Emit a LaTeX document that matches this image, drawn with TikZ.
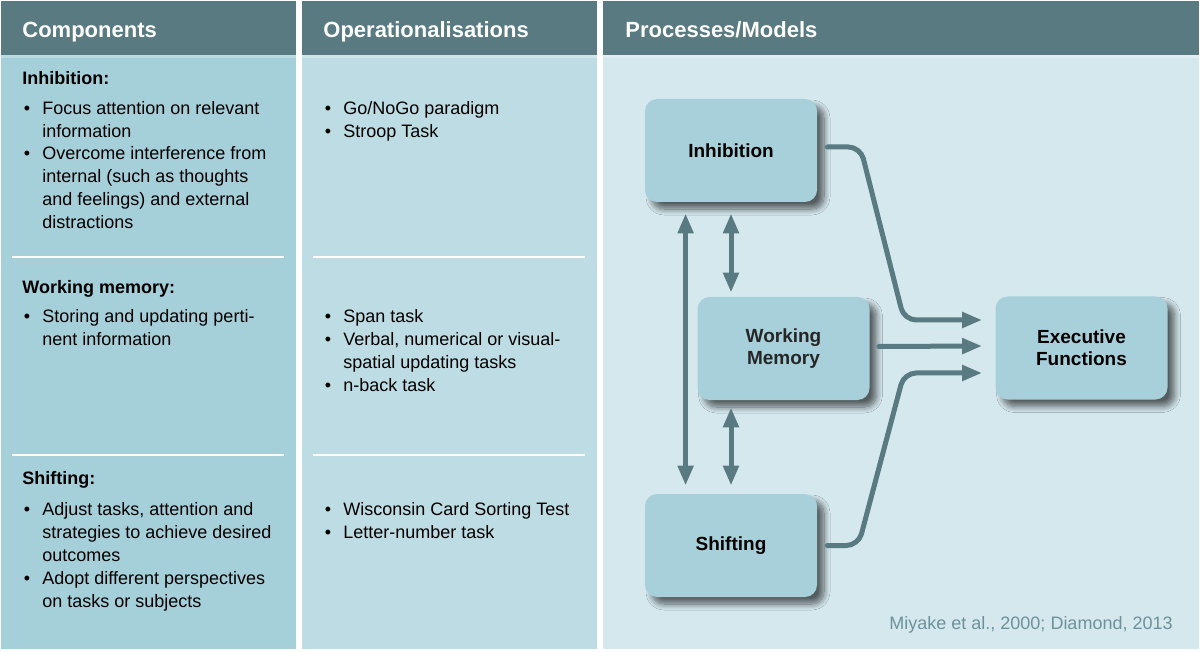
\documentclass[tikz,border=0pt]{standalone}
\usepackage{fontspec}
\setmainfont{Liberation Sans}
\usetikzlibrary{arrows.meta,shadows.blur}

\definecolor{headteal}{HTML}{587A80}
\definecolor{colone}{HTML}{A5CFD9}
\definecolor{coltwo}{HTML}{BEDCE3}
\definecolor{colthree}{HTML}{D5E8EE}
\definecolor{boxfill}{HTML}{A7D0DA}
\definecolor{citegray}{HTML}{6E9199}

\tikzset{
  head/.style={anchor=base west, inner sep=0pt, text=white, font=\fontsize{11}{13}\selectfont\bfseries},
  sub/.style={anchor=base west, inner sep=0pt, font=\fontsize{9}{11}\selectfont\bfseries},
  txt/.style={anchor=base west, inner sep=0pt, font=\fontsize{9}{11}\selectfont},
  dot/.style={anchor=base, inner sep=0pt, font=\fontsize{9}{11}\selectfont},
  sep/.style={white, line width=1pt},
  proc/.style={rectangle, rounded corners=6pt, fill=boxfill, minimum width=86pt, minimum height=51.5pt,
    align=center, font=\fontsize{9.5}{11}\selectfont\bfseries,
    blur shadow={shadow xshift=3.5pt, shadow yshift=-3.5pt, shadow blur radius=3pt,
      shadow blur steps=10, shadow opacity=60}},
  flow/.style={headteal, line width=2.5pt, line cap=round, rounded corners=6pt, -{Triangle[width=7.5pt,length=10pt]}},
  both/.style={headteal, line width=2.5pt, {Triangle[width=7.5pt,length=10pt]}-{Triangle[width=7.5pt,length=10pt]}},
}

\begin{document}
\begin{tikzpicture}[x=0.5pt, y=-0.5pt]
  \useasboundingbox[fill=white] (0,0) rectangle (1200,652);

  % Colonne
  \fill[colone] (1,1) rectangle (296,649);
  \fill[coltwo] (302,1) rectangle (597,649);
  \fill[colthree] (603,1) rectangle (1199,649);
  \fill[headteal] (1,1) rectangle (296,55);
  \fill[headteal] (302,1) rectangle (597,55);
  \fill[headteal] (603,1) rectangle (1199,55);
  \fill[colone!75!white] (1,55) rectangle (296,58);
  \fill[coltwo!75!white] (302,55) rectangle (597,58);
  \fill[colthree!75!white] (603,55) rectangle (1199,58);

  % Intestazioni
  \node[head] (hcomp) at (22,38) {Components};
  \node[head] (hoper) at (323,38) {Operationalisations};
  \node[head] (hproc) at (625,38) {Processes/Models};

  % Separatori
  \draw[sep] (12,257) -- (284,257);
  \draw[sep] (12,455) -- (284,455);
  \draw[sep] (313,257) -- (585,257);
  \draw[sep] (313,455) -- (585,455);

  % Prima colonna
  \node[sub] (sinh) at (22,85) {Inhibition:};
  \node[sub] (swm) at (22,294) {Working memory:};
  \node[sub] (sshi) at (22,484) {Shifting:};
  \foreach \y in {115,160,323,515,584}
    \node[dot] at (27,\y) {•};
  \foreach \y/\t [count=\i] in {115/{Focus attention on relevant}, 138/information,
      160/{Overcome interference from}, 183/{internal (such as thoughts},
      206/{and feelings) and external}, 229/distractions,
      323/{Storing and updating perti-}, 346/{nent information},
      515/{Adjust tasks, attention and}, 538/{strategies to achieve desired},
      561/outcomes, 584/{Adopt different perspectives}, 607/{on tasks or subjects}}
    \node[txt] (ca\i) at (42,\y) {\t};

  % Seconda colonna
  \foreach \y/\t [count=\i] in {115/{Go/NoGo paradigm}, 138/{Stroop Task},
      323/{Span task}, 346/{Verbal, numerical or visual-}, 392/{n-back task},
      515/{Wisconsin Card Sorting Test}, 538/{Letter-number task}}
    \node[dot] (cb\i) at (328,\y) {•};
  \node[txt] (sp) at (343,369) {spatial updating tasks};
  \foreach \y/\t [count=\i] in {115/{Go/NoGo paradigm}, 138/{Stroop Task},
      323/{Span task}, 346/{Verbal, numerical or visual-}, 392/{n-back task},
      515/{Wisconsin Card Sorting Test}, 538/{Letter-number task}}
    \node[txt] (tb\i) at (343,\y) {\t};

  % Disegno dei nodi
  \node[proc] (inh) at (731,150.5) {Inhibition};
  \node[proc, text=black!85] (wm) at (783.5,348.5) {Working\\Memory};
  \node[proc] (shi) at (731,545.5) {Shifting};
  \node[proc] (ef) at (1081.5,348) {Executive\\Functions};

  % Disegno degli archi
  \draw[both] ([xshift=20.5pt,yshift=-5.5pt]inh.south west) -- ([xshift=20.5pt,yshift=4pt]shi.north west);
  \draw[both] ([yshift=-5.5pt]inh.south) -- ([yshift=2pt]inh.south |- wm.north);
  \draw[both] ([yshift=-3.5pt]inh.south |- wm.south) -- ([yshift=4pt]shi.north);
  \draw[flow] ([xshift=5pt,yshift=1.75pt]inh.east) -- ++(33,0)
    -- ([xshift=-45.5pt,yshift=14pt]ef.west) -- ([xshift=-6.5pt,yshift=14pt]ef.west);
  \draw[flow] ([xshift=4.5pt,yshift=1pt]wm.east) -- ([xshift=-6.5pt,yshift=1pt]ef.west);
  \draw[flow] ([xshift=5pt]shi.east) -- ++(31,0)
    -- ([xshift=-45.5pt,yshift=-12.5pt]ef.west) -- ([xshift=-6.5pt,yshift=-12.5pt]ef.west);

  % Fonte
  \node[anchor=base east, inner sep=0pt, text=citegray, font=\fontsize{9}{11}\selectfont] (cite) at (1173,629)
    {Miyake et al., 2000; Diamond, 2013};
\end{tikzpicture}
\end{document}
